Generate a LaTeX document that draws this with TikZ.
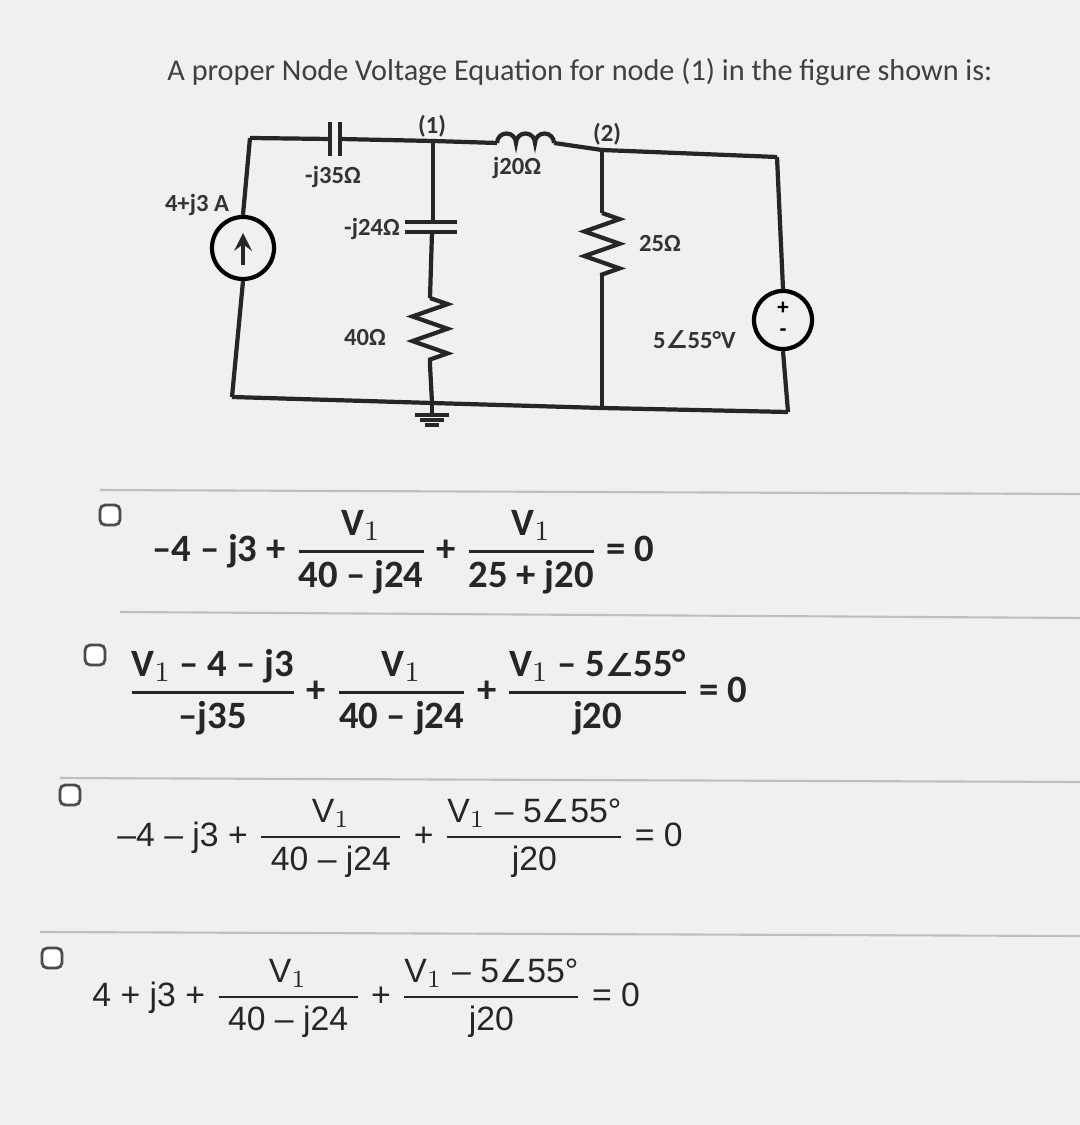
\documentclass[tikz,border=0pt]{standalone}
\usepackage{amsmath}
\usepackage{fontspec}
\setmainfont{Liberation Sans}
\newfontfamily\carl{Carlito}
\newfontfamily\djfont{DejaVu Sans}
\usetikzlibrary{decorations.pathmorphing}
\newcommand{\fr}[2]{\genfrac{}{}{0.7pt}{0}{\mbox{#1}}{\mbox{#2}}}
\newcommand{\ang}{{\djfont\small ∠}}
\tikzset{wire/.style={line width=1.2pt,black!85},
 lbl/.style={font=\carl\fontsize{7}{8}\selectfont\bfseries,text=black!80},
 eqn/.style={anchor=west,font=\fontsize{9.6}{11}\selectfont,text=black!85},
 chk/.style={draw=black!70,line width=0.8pt,rounded corners=1.5pt,minimum size=0.2cm,inner sep=0pt,fill=white},
 sep/.style={line width=0.6pt,black!25},
 res/.style={wire,decorate,decoration={zigzag,segment length=7pt,amplitude=5pt}}}
\begin{document}
\begin{tikzpicture}[x=0.01cm,y=-0.01cm]
\useasboundingbox (0,0) rectangle (1080,1125);
\fill[black!6] (0,0) rectangle (1080,1125);
\node[anchor=west,font=\carl\fontsize{8.6}{9}\selectfont,text=black!75] (title) at (155,72) {A proper Node Voltage Equation for node (1) in the figure shown is:};
% circuit coordinates
\coordinate (tl) at (250,138); \coordinate (tr) at (777,157);
\coordinate (bl) at (232,397); \coordinate (br) at (788,412);
\coordinate (n1) at (433,141); \coordinate (n2) at (602,150);
\coordinate (g) at (432,403); \coordinate (b2) at (602,408);
% top wire with capacitor and inductor
\draw[wire] (tl) -- (330,139); \draw[wire] (340,139) -- (n1);
\draw[wire] (330,122) -- (330,156); \draw[wire] (340,122) -- (340,156);
\draw[wire] (n1) -- (497,143);
\draw[wire] (497,143) arc(180:360:9.5) arc(180:360:9.5) arc(180:360:9.5) coordinate (ie);
\draw[wire] (ie) -- (n2) -- (tr);
% left branch current source
\node[draw,circle,line width=1.2pt,minimum size=0.62cm,inner sep=0pt] (cs) at (243,248) {};
\draw[wire] (tl) -- (cs.north); \draw[wire] (cs.south) -- (bl);
\draw[wire,-stealth] (243,265) -- (243,233);
% middle branch
\draw[wire] (n1) -- (433,222); \draw[wire] (405,222) -- (457,222);
\draw[wire] (405,232) -- (457,232);
\draw[wire] (432,232) -- (430,298);
\draw[res] (430,298) -- (430,365);
\draw[wire] (430,365) -- (g);
\draw[wire] (g) -- (432,415);
\draw[wire] (415,415) -- (449,415); \draw[wire] (420,420) -- (444,420); \draw[wire] (425,425) -- (439,425);
% 25 ohm branch
\draw[wire] (n2) -- (602,213);
\draw[res] (602,213) -- (602,276);
\draw[wire] (602,276) -- (b2);
% right voltage source
\node[draw,circle,line width=1.2pt,minimum size=0.58cm,inner sep=0pt] (vs) at (783,320) {};
\draw[wire] (tr) -- (vs.north); \draw[wire] (vs.south) -- (br);
\node[font=\fontsize{6}{6}\selectfont\bfseries] (vp) at (783,308) {+};
\node[font=\fontsize{6}{6}\selectfont\bfseries] (vm) at (783,332) {-};
% bottom wire
\draw[wire] (bl) -- (g) -- (b2) -- (br);
% labels
\node[lbl] (l1) at (432,126) {(1)};
\node[lbl] (l2) at (607,134) {(2)};
\node[lbl] (lc) at (333,177) {-j35Ω};
\node[lbl] (li) at (517,168) {j20Ω};
\node[lbl] (ls) at (197,205) {4+j3 A};
\node[lbl] (lc2) at (372,229) {-j24Ω};
\node[lbl] (lr) at (365,338) {40Ω};
\node[lbl] (lr2) at (660,244) {25Ω};
\node[lbl,anchor=east] (lv) at (748,340) {5{\djfont ∠}55°V};
% separators
\draw[sep] (100,490) -- (1080,494);
\draw[sep] (120,612) -- (1080,618);
\draw[sep] (60,778) -- (1080,782);
\draw[sep] (40,932) -- (1080,936);
% checkboxes
\node[chk] (c1) at (110,515) {};
\node[chk] (c2) at (95,655) {};
\node[chk] (c3) at (70,795) {};
\node[chk] (c4) at (52,958) {};
% equations
\node[eqn,font=\carl\fontsize{11}{12}\selectfont\bfseries] (e1) at (140,552) {–4 – j3 + $\fr{\carl\bfseries V$_1$}{\carl\bfseries 40 – j24}$ + $\fr{\carl\bfseries V$_1$}{\carl\bfseries 25 + j20}$ = 0};
\node[eqn,font=\carl\fontsize{11}{12}\selectfont\bfseries] (e2) at (115,692) {$\fr{\carl\bfseries V$_1$ – 4 – j3}{\carl\bfseries –j35}$ + $\fr{\carl\bfseries V$_1$}{\carl\bfseries 40 – j24}$ + $\fr{\carl\bfseries V$_1$ – 5\ang55°}{\carl\bfseries j20}$ = 0};
\node[eqn] (e3) at (105,838) {–4 – j3 + $\fr{V$_1$}{\ 40 – j24\ }$ + $\fr{V$_1$ – 5\ang55°}{j20}$ = 0};
\node[eqn] (e4) at (80,998) {4 + j3 + $\fr{V$_1$}{\ 40 – j24\ }$ + $\fr{V$_1$ – 5\ang55°}{j20}$ = 0};
\end{tikzpicture}
\end{document}
